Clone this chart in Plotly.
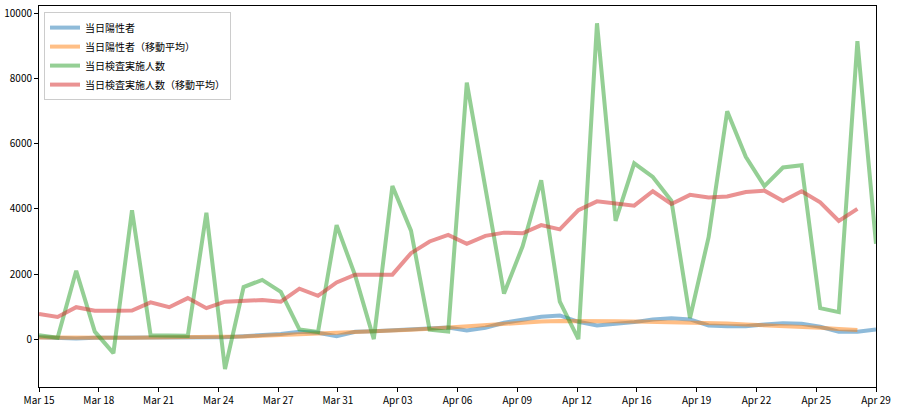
import numpy as np
import pandas as pd
import plotly.graph_objects as go

dates = pd.date_range("2020-03-15", "2020-04-29", freq="D")

positives = [60, 30, 20, 40, 40, 35, 50, 40, 45, 40, 60, 90, 110, 160, 230, 195,
             90, 226, 245, 267, 318, 340, 359, 267, 348, 502, 583, 686, 727, 532,
             420, 471, 522, 604, 644, 604, 420, 399, 399, 450, 491, 471, 380, 226,
             226, 297]

positives_ma = [50, 45, 45, 45, 45, 45, 50, 50, 50, 55, 65, 80, 100, 120, 150, 175,
                185, 210, 235, 260, 290, 320, 360, 400, 440, 480, 510, 540, 560, 565,
                560, 550, 540, 530, 525, 520, 500, 480, 450, 430, 410, 380, 350, 310,
                280]

tests = [120, 45, 2100, 230, -430, 3960, 120, 100, 100, 3880, -920, 1600, 1820, 1450,
         300, 220, 3500, 1950, 0, 4700, 3330, 290, 230, 7880, 4650, 1400, 2850, 4880,
         1150, 0, 9700, 3630, 5400, 4980, 4250, 650, 3130, 7000, 5600, 4700, 5270,
         5340, 950, 830, 9150, 2930]

tests_ma = [770, 680, 980, 870, 870, 880, 1130, 980, 1260, 950, 1150, 1180, 1200,
            1150, 1550, 1330, 1740, 1980, 1980, 1980, 2640, 3000, 3200, 2930, 3170,
            3270, 3250, 3500, 3370, 3960, 4230, 4170, 4100, 4540, 4150, 4430, 4350,
            4380, 4520, 4560, 4240, 4540, 4200, 3630, 4000]

series_names = ["当日陽性者", "当日陽性者（移動平均）", "当日検査実施人数", "当日検査実施人数（移動平均）"]
colors = ["#1f77b4", "#ff7f0e", "#2ca02c", "#d62728"]

x_tick_labels = ["Mar 15", "Mar 18", "Mar 21", "Mar 24", "Mar 27", "Mar 31", "Apr 03",
                 "Apr 06", "Apr 09", "Apr 12", "Apr 16", "Apr 19", "Apr 22", "Apr 25", "Apr 29"]
y_ticks = [0, 2000, 4000, 6000, 8000, 10000]

start, end = dates[0], dates[-1]
tick_positions = pd.to_datetime(np.linspace(start.value, end.value, len(x_tick_labels)))

fig = go.Figure()
for name, ys, c in zip(series_names, [positives, positives_ma, tests, tests_ma], colors):
    fig.add_trace(go.Scatter(
        x=dates[:len(ys)], y=ys, mode="lines", name=name,
        line=dict(color=c, width=4), opacity=0.5,
    ))

font_family = "Noto Sans CJK JP, DejaVu Sans"
fig.update_layout(
    width=897, height=410,
    margin=dict(l=39, r=21, t=6, b=23, autoexpand=False),
    paper_bgcolor="white", plot_bgcolor="white",
    font=dict(family=font_family, size=10, color="black"),
    showlegend=True,
    legend=dict(
        x=0.006, y=0.984, xanchor="left", yanchor="top",
        bgcolor="rgba(255,255,255,0.8)", bordercolor="#cccccc", borderwidth=1,
        font=dict(family=font_family, size=10, color="black"),
        itemwidth=30,
    ),
    xaxis=dict(
        type="date", range=[start, end], automargin=False,
        tickvals=tick_positions, ticktext=x_tick_labels,
        ticks="outside", ticklen=4, tickcolor="black",
        showline=True, linecolor="black", linewidth=1, mirror=True,
        showgrid=False, zeroline=False,
    ),
    yaxis=dict(
        range=[-1470, 10230], automargin=False,
        tickvals=y_ticks, ticktext=[str(v) for v in y_ticks],
        ticks="outside", ticklen=4, tickcolor="black",
        showline=True, linecolor="black", linewidth=1, mirror=True,
        showgrid=False, zeroline=False,
    ),
)

fig.write_html(
    "out.html",
    config={"displayModeBar": False},
    post_script="document.body.style.margin='0';document.body.style.overflow='hidden';",
)
